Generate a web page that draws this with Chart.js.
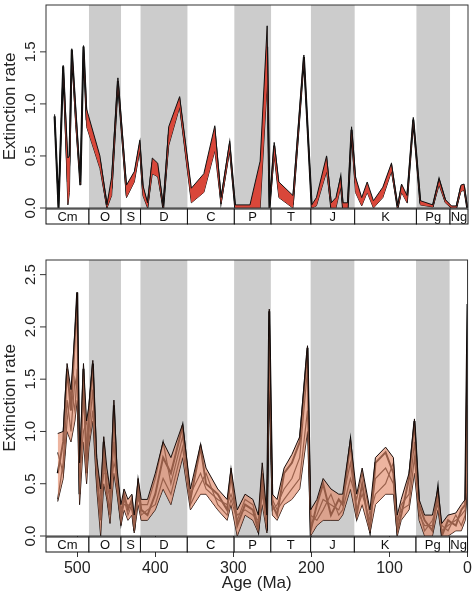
<!DOCTYPE html>
<html><head><meta charset="utf-8">
<script src="https://cdn.jsdelivr.net/npm/chart.js@4"></script>
<style>body{margin:0;background:#fff}#a,#b{position:absolute;left:0;width:474px}#a{top:0;height:240px}#b{top:240px;height:354px}</style>
</head><body>
<div id="a"><canvas id="ca"></canvas></div><div id="b"><canvas id="cb"></canvas></div>
<script>
const periodNames=["Cm","O","S","D","C","P","T","J","K","Pg","Ng"];
const periodStart=[541,485,444,419,359,299,252,201,145,66,23];
const periodEnd=[485,444,419,359,299,252,201,145,66,23,0];
const shaded=[false,true,false,true,false,true,false,true,false,true,false];

const topAges=[529,524,518,512,510,507,502,496,492,488,471,462,456,448,437,427,420,416,410,404,397,390,383,369,354,338,324,316,305,298,279,266,257,254,248,242,224,210,200,194,181,175,169,163,160,154,149,144,136,129,121,109,98,90,85,78,70,61,45,37,29,21,15,9,5,1];
const topMid=[0.88,0.0,1.36,0.25,0.45,1.52,0.9,0.22,1.55,0.85,0.45,0.02,0.2,1.22,0.15,0.3,0.6,0.18,0.03,0.42,0.37,0.0,0.7,1.02,0.12,0.25,0.72,0.07,0.6,0.01,0.01,0.2,1.55,0.0,0.6,0.18,0.05,1.45,0.01,0.05,0.45,0.0,0.05,0.28,0.0,0.0,0.75,0.25,0.05,0.2,0.03,0.15,0.4,0.0,0.2,0.08,0.85,0.05,0.02,0.27,0.07,0.0,0.0,0.2,0.2,0.0];
const topLo=[0.88,0.0,1.36,0.03,0.15,1.5,0.8,0.22,1.53,0.78,0.38,0.0,0.12,1.2,0.1,0.25,0.55,0.12,0.0,0.33,0.3,0.0,0.6,0.97,0.05,0.15,0.55,0.04,0.55,0.0,0.0,0.0,1.2,0.0,0.5,0.1,0.0,1.42,0.0,0.02,0.35,0.0,0.0,0.2,0.0,0.0,0.7,0.15,0.02,0.15,0.0,0.1,0.35,0.0,0.15,0.05,0.82,0.03,0.01,0.22,0.05,0.0,0.0,0.16,0.17,0.0];
const topHi=[0.9,0.0,1.37,0.48,0.5,1.53,0.95,0.25,1.56,0.95,0.5,0.03,0.3,1.25,0.22,0.35,0.65,0.22,0.05,0.48,0.43,0.02,0.78,1.07,0.19,0.33,0.79,0.1,0.64,0.03,0.03,0.45,1.75,0.02,0.63,0.25,0.12,1.47,0.03,0.1,0.5,0.05,0.1,0.3,0.05,0.05,0.78,0.3,0.1,0.25,0.07,0.2,0.43,0.02,0.23,0.12,0.87,0.07,0.03,0.28,0.08,0.02,0.02,0.22,0.23,0.02];

const botAges=[525,518,513,508,503,500,497,492,488,485,480,475,470,466,462,458,453,449,444,440,435,430,427,422,418,410,400,390,380,365,355,342,335,320,308,303,295,285,275,268,263,257,254,250,244,235,225,215,205,201,193,185,175,165,160,150,142,135,125,118,105,95,90,85,75,68,62,55,45,38,33,25,15,8,3,0];
const bot1=[0.6,0.9,1.6,1.2,1.9,2.33,0.4,1.6,0.6,1.2,1.65,0.6,0.15,0.9,0.4,0.2,1.25,0.5,0.15,0.4,0.25,0.35,0.05,0.5,0.25,0.2,0.4,0.75,0.6,1.05,0.35,0.85,0.5,0.4,0.25,0.6,0.1,0.3,0.25,0.05,0.6,0.05,2.15,0.3,0.2,0.6,0.7,0.9,1.8,0.05,0.3,0.5,0.2,0.35,0.3,0.9,0.2,0.5,0.05,0.7,0.8,0.6,0.05,0.2,0.55,1.1,0.3,0.15,0.05,0.45,0.0,0.15,0.1,0.25,0.3,2.22];
const bot2=[0.35,0.7,1.3,1.0,1.5,1.4,0.7,1.3,0.9,1.0,1.4,0.5,0.3,0.7,0.5,0.35,0.9,0.45,0.2,0.3,0.3,0.25,0.15,0.35,0.3,0.3,0.55,0.9,0.5,0.95,0.4,0.6,0.45,0.35,0.3,0.4,0.2,0.25,0.2,0.15,0.45,0.1,1.9,0.25,0.3,0.45,0.55,0.75,1.6,0.1,0.2,0.35,0.3,0.25,0.35,0.7,0.25,0.4,0.15,0.55,0.65,0.5,0.1,0.3,0.4,0.9,0.2,0.1,0.1,0.35,0.05,0.1,0.15,0.2,0.25,1.25];
const bot3=[0.8,0.6,1.1,1.4,1.2,1.6,0.6,1.0,1.1,0.9,1.2,0.7,0.4,0.6,0.6,0.4,0.7,0.6,0.25,0.35,0.2,0.3,0.1,0.4,0.2,0.25,0.3,0.55,0.4,0.85,0.3,0.5,0.6,0.3,0.2,0.35,0.15,0.35,0.3,0.1,0.4,0.15,1.6,0.35,0.25,0.35,0.45,0.55,1.2,0.2,0.15,0.25,0.4,0.2,0.25,0.55,0.35,0.6,0.2,0.4,0.5,0.7,0.15,0.25,0.3,0.75,0.25,0.05,0.15,0.3,0.1,0.05,0.2,0.1,0.2,0.6];
const botHi=[0.98,1.0,1.65,1.4,1.95,2.33,0.7,1.65,1.1,1.25,1.68,0.75,0.45,0.95,0.65,0.45,1.3,0.65,0.3,0.45,0.35,0.4,0.2,0.55,0.35,0.35,0.6,0.9,0.75,1.07,0.45,0.88,0.65,0.45,0.35,0.65,0.25,0.4,0.35,0.2,0.7,0.2,2.17,0.4,0.35,0.65,0.78,0.95,1.82,0.25,0.35,0.55,0.45,0.4,0.4,0.93,0.4,0.65,0.25,0.75,0.85,0.75,0.2,0.35,0.6,1.12,0.35,0.2,0.2,0.45,0.12,0.2,0.22,0.3,0.35,2.22];
const botLo=[0.33,0.55,1.0,0.9,1.1,1.3,0.3,0.9,0.5,0.85,1.1,0.45,0.0,0.5,0.35,0.12,0.6,0.4,0.1,0.25,0.15,0.2,0.03,0.3,0.15,0.15,0.25,0.45,0.3,0.75,0.25,0.4,0.4,0.25,0.15,0.3,0.0,0.2,0.15,0.03,0.3,0.03,1.4,0.2,0.15,0.3,0.35,0.45,1.0,0.0,0.1,0.15,0.15,0.15,0.2,0.45,0.15,0.3,0.03,0.3,0.4,0.4,0.0,0.15,0.25,0.6,0.15,0.0,0.0,0.25,0.0,0.0,0.05,0.05,0.15,0.5];
const topTicks=[0,0.5,1.0,1.5];
const botTicks=[0,0.5,1.0,1.5,2.0,2.5];
const xTicks=[500,400,300,200,100,0];

const F='"Liberation Sans", Arial, sans-serif';
const pts=(ages,vals)=>ages.map((a,i)=>({x:a,y:vals[i]}));

function periodPlugin(yTicks){return{
 id:'periods',
 beforeDatasetsDraw(c){const {ctx,chartArea:ca,scales:{x}}=c;ctx.save();
  periodNames.forEach((n,i)=>{if(!shaded[i])return;const x1=x.getPixelForValue(Math.min(periodStart[i],540)),x2=x.getPixelForValue(periodEnd[i]);ctx.fillStyle='#cccccc';ctx.fillRect(x1,ca.top,x2-x1,ca.bottom-ca.top);});
  ctx.restore();},
 afterDraw(c){const {ctx,chartArea:ca,scales:{x,y}}=c;ctx.save();
  ctx.strokeStyle='#333';ctx.lineWidth=1;ctx.strokeRect(ca.left,ca.top,ca.right-ca.left,ca.bottom-ca.top);
  const b0=ca.bottom+1,b1=ca.bottom+16;
  periodNames.forEach((n,i)=>{const x1=x.getPixelForValue(Math.min(periodStart[i],540)),x2=x.getPixelForValue(periodEnd[i]);
   ctx.fillStyle='#fff';ctx.fillRect(x1,b0,x2-x1,b1-b0);ctx.strokeStyle='#111';ctx.strokeRect(x1,b0,x2-x1,b1-b0);
   ctx.fillStyle='#111';ctx.font='13px '+F;ctx.textAlign='center';ctx.textBaseline='middle';ctx.fillText(n,(x1+x2)/2,(b0+b1)/2+1);});
  yTicks.forEach(t=>{const py=y.getPixelForValue(t);ctx.strokeStyle='#333';ctx.beginPath();ctx.moveTo(ca.left-6,py);ctx.lineTo(ca.left,py);ctx.stroke();
   ctx.save();ctx.translate(ca.left-15,py);ctx.rotate(-Math.PI/2);ctx.fillStyle='#222';ctx.font='15px '+F;ctx.textAlign='center';ctx.textBaseline='middle';ctx.fillText(t.toFixed(1),0,0);ctx.restore();});
  ctx.restore();}
};}

function yScale(max){return{min:0,max:max,afterFit:s=>{s.width=46;},ticks:{display:false},grid:{display:false},border:{display:false},
 title:{display:true,text:'Extinction rate',font:{family:F,size:17},color:'#222',padding:{top:0,bottom:4}}};}

new Chart(document.getElementById('ca'),{type:'line',
 data:{datasets:[
  {data:pts(topAges,topHi),borderColor:'#111',borderWidth:1,pointRadius:0,fill:'+1',backgroundColor:'#d9473a'},
  {data:pts(topAges,topLo),borderColor:'#111',borderWidth:1,pointRadius:0,fill:false},
  {data:pts(topAges,topMid),borderColor:'#000',borderWidth:2,pointRadius:0,fill:false}]},
 options:{responsive:true,maintainAspectRatio:false,animation:false,plugins:{legend:{display:false},tooltip:{enabled:false}},
  layout:{padding:{top:5,right:6,bottom:32,left:0}},
  scales:{x:{type:'linear',reverse:true,min:0,max:540,display:false},y:yScale(1.95)}},
 plugins:[periodPlugin(topTicks)]});

new Chart(document.getElementById('cb'),{type:'line',
 data:{datasets:[
  {data:pts(botAges,botHi),borderColor:'#1a0d0a',borderWidth:1,pointRadius:0,fill:'+1',backgroundColor:'rgba(228,140,108,0.65)'},
  {data:pts(botAges,botLo),borderColor:'#1a0d0a',borderWidth:1,pointRadius:0,fill:false},
  {data:pts(botAges,bot3),borderColor:'#111',borderWidth:1.2,pointRadius:0,fill:false},
  {data:pts(botAges,bot2),borderColor:'#111',borderWidth:1.2,pointRadius:0,fill:false},
  {data:pts(botAges,bot1),borderColor:'#000',borderWidth:2,pointRadius:0,fill:false}]},
 options:{responsive:true,maintainAspectRatio:false,animation:false,plugins:{legend:{display:false},tooltip:{enabled:false}},
  layout:{padding:{top:20,right:6,bottom:0,left:0}},
  scales:{x:{type:'linear',reverse:true,min:0,max:540,afterBuildTicks:s=>{s.ticks=xTicks.map(v=>({value:v}));},afterFit:s=>{s.height=58;},
    ticks:{font:{family:F,size:16},color:'#222',padding:2,callback:v=>String(v)},
    grid:{drawOnChartArea:false,tickLength:21,color:'#333'},border:{display:false},
    title:{display:true,text:'Age (Ma)',font:{family:F,size:17},color:'#222',padding:{top:0,bottom:0}}},
   y:yScale(2.64)}},
 plugins:[periodPlugin(botTicks)]});
</script></body></html>
